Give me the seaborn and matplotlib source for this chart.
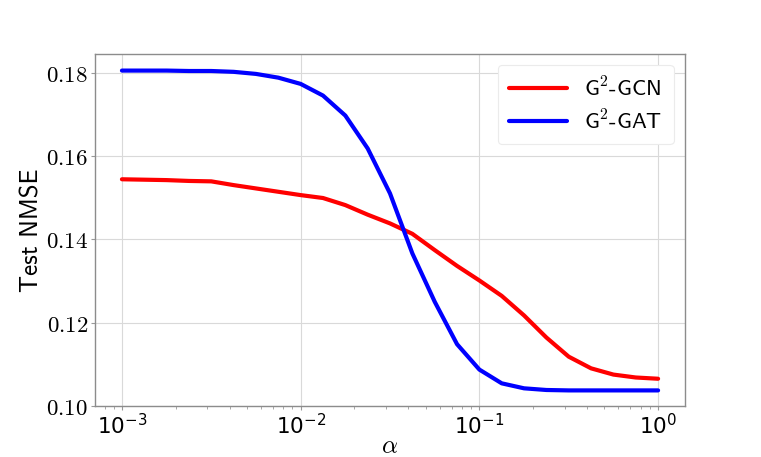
import numpy as np
import pandas as pd
import matplotlib
matplotlib.use("Agg")
import matplotlib.pyplot as plt
import seaborn as sns
from matplotlib.ticker import FuncFormatter

# alpha sweep, 25 log-spaced points between 1e-3 and 1
alpha = [0.001, 0.001334, 0.001778, 0.002371, 0.003162, 0.004217, 0.005623,
         0.007499, 0.01, 0.013335, 0.017783, 0.023714, 0.031623, 0.04217,
         0.056234, 0.074989, 0.1, 0.133352, 0.177828, 0.237137, 0.316228,
         0.421697, 0.562341, 0.749894, 1.0]

gcn_nmse = [0.1544, 0.1543, 0.1542, 0.1540, 0.1539, 0.1530, 0.1522, 0.1514,
            0.1506, 0.1499, 0.1482, 0.1459, 0.1438, 0.1413, 0.1374, 0.1336,
            0.1301, 0.1264, 0.1217, 0.1164, 0.1118, 0.1090, 0.1075, 0.1068,
            0.1065]

gat_nmse = [0.1805, 0.1805, 0.1805, 0.1804, 0.1804, 0.1802, 0.1797, 0.1788,
            0.1773, 0.1745, 0.1697, 0.1618, 0.1510, 0.1366, 0.1250, 0.1148,
            0.1087, 0.1054, 0.1042, 0.1038, 0.1037, 0.1037, 0.1037, 0.1037,
            0.1037]

labels = ["G$^2$-GCN", "G$^2$-GAT"]

df = pd.DataFrame({
    "alpha": alpha * 2,
    "nmse": gcn_nmse + gat_nmse,
    "model": [labels[0]] * len(alpha) + [labels[1]] * len(alpha),
})

sns.set_style("whitegrid", {"axes.edgecolor": "0.55", "grid.color": "0.85",
                            "xtick.bottom": True, "ytick.left": True,
                            "text.color": "black", "axes.labelcolor": "black",
                            "xtick.color": "black", "ytick.color": "black"})
plt.rcParams["mathtext.fontset"] = "cm"
plt.rcParams["axes.unicode_minus"] = False

fig, ax = plt.subplots(figsize=(7.61, 4.57), dpi=100)
sns.lineplot(data=df, x="alpha", y="nmse", hue="model",
             palette=["red", "blue"], linewidth=3, ax=ax)
ax.set_xscale("log")
ax.set_ylim(0.10, 0.1845)
ax.set_yticks([0.10, 0.12, 0.14, 0.16, 0.18])
ax.yaxis.set_major_formatter(FuncFormatter(lambda v, p: r"$%.2f$" % v))
ax.tick_params(axis="y", which="major", labelsize=16.5, length=3,
               color="0.6", pad=2)
ax.tick_params(axis="x", which="major", labelsize=15.5, length=3,
               color="0.6", pad=2)
ax.tick_params(axis="x", which="minor", length=2, color="0.6")
ax.set_xlabel(r"$\alpha$", fontsize=18, labelpad=-3)
ax.set_ylabel("Test NMSE", fontsize=18, family="cmss10", labelpad=2)
for s in ax.spines.values():
    s.set_linewidth(1.0)
ax.grid(True, which="major", linewidth=0.8)

leg = ax.legend(loc="upper right", handlelength=2.6,
                prop={"family": "cmss10", "size": 16},
                borderpad=0.5, labelspacing=0.4, framealpha=1,
                edgecolor="0.92")
leg.get_frame().set_linewidth(0.8)

fig.subplots_adjust(left=0.125, right=0.9, bottom=0.112, top=0.882)
fig.savefig("out.png", dpi=100)
